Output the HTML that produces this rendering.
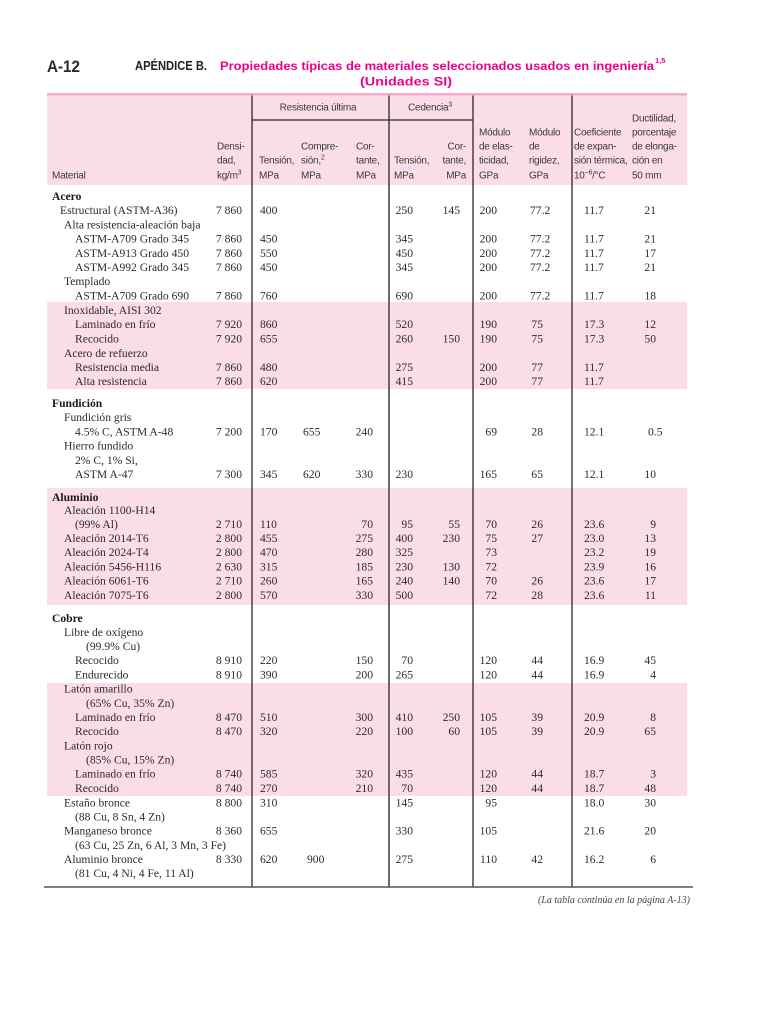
<!DOCTYPE html>
<html><head><meta charset="utf-8"><style>
html,body{margin:0;padding:0;background:#fff;}
svg{display:block;}
.s{font-family:"Liberation Sans",sans-serif;font-size:10px;fill:#3a3a3a;letter-spacing:-0.25px;}
.b{font-family:"Liberation Serif",serif;font-size:11.6px;fill:#2b2b2b;}
.bb{font-family:"Liberation Serif",serif;font-size:11.6px;font-weight:bold;fill:#1a1a1a;}
.e{text-anchor:end;}
.m{text-anchor:middle;}
</style></head><body>
<svg width="768" height="1024" viewBox="0 0 768 1024" xmlns="http://www.w3.org/2000/svg">
<rect width="768" height="1024" fill="#fff"/>
<!-- title -->
<text x="47" y="72" font-family="Liberation Sans, sans-serif" font-size="17" font-weight="bold" fill="#2a2a2a" textLength="33" lengthAdjust="spacingAndGlyphs">A-12</text>
<text x="135" y="70" font-family="Liberation Sans, sans-serif" font-size="12.5" font-weight="bold" fill="#222" textLength="72" lengthAdjust="spacingAndGlyphs">APÉNDICE B.</text>
<text x="220" y="70" font-family="Liberation Sans, sans-serif" font-size="12.2" font-weight="bold" fill="#ec008c" textLength="434" lengthAdjust="spacingAndGlyphs">Propiedades típicas de materiales seleccionados usados en ingeniería</text>
<text x="655" y="63" font-family="Liberation Sans, sans-serif" font-size="7.5" font-weight="bold" fill="#ec008c">1,5</text>
<text x="360" y="85.5" font-family="Liberation Sans, sans-serif" font-size="12.2" font-weight="bold" fill="#ec008c" textLength="92" lengthAdjust="spacingAndGlyphs">(Unidades SI)</text>

<!-- bands -->
<rect x="47" y="93" width="640" height="92" fill="#fbdde9"/>
<rect x="47" y="93" width="640" height="2.5" fill="#f4adcc"/>
<rect x="47" y="302" width="640" height="87" fill="#fbdde9"/>
<rect x="47" y="488" width="640" height="117" fill="#fbdde9"/>
<rect x="47" y="683" width="640" height="113" fill="#fbdde9"/>

<!-- lines -->
<line x1="252" y1="95.5" x2="252" y2="887" stroke="#2a2a2a" stroke-width="1.3"/>
<line x1="389" y1="95.5" x2="389" y2="887" stroke="#6a6a6a" stroke-width="2"/>
<line x1="473" y1="95.5" x2="473" y2="887" stroke="#2a2a2a" stroke-width="1.3"/>
<line x1="572" y1="95.5" x2="572" y2="887" stroke="#2a2a2a" stroke-width="1.3"/>
<line x1="252" y1="120" x2="473" y2="120" stroke="#2a2a2a" stroke-width="1.2"/>
<line x1="44" y1="887" x2="693" y2="887" stroke="#555" stroke-width="1.6"/>

<!-- header text -->
<g class="s">
<text x="52" y="178.5">Material</text>
<text x="217" y="149.5">Densi-</text>
<text x="217" y="163.5">dad,</text>
<text x="217" y="178.5">kg/m<tspan font-size="7" dy="-4">3</tspan></text>
<text x="318" y="110.5" class="m">Resistencia última</text>
<text x="430" y="110.5" class="m">Cedencia<tspan font-size="7" dy="-4">3</tspan></text>
<text x="259" y="163.5">Tensión,</text>
<text x="259" y="178.5">MPa</text>
<text x="301" y="149.5">Compre-</text>
<text x="301" y="163.5">sión,<tspan font-size="7" dy="-4">2</tspan></text>
<text x="301" y="178.5">MPa</text>
<text x="356" y="149.5">Cor-</text>
<text x="356" y="163.5">tante,</text>
<text x="356" y="178.5">MPa</text>
<text x="394" y="163.5">Tensión,</text>
<text x="394" y="178.5">MPa</text>
<text x="466" y="149.5" class="e">Cor-</text>
<text x="466" y="163.5" class="e">tante,</text>
<text x="466" y="178.5" class="e">MPa</text>
<text x="479" y="135.5">Módulo</text>
<text x="479" y="149.5">de elas-</text>
<text x="479" y="163.5">ticidad,</text>
<text x="479" y="178.5">GPa</text>
<text x="529" y="135.5">Módulo</text>
<text x="529" y="149.5">de</text>
<text x="529" y="163.5">rigidez,</text>
<text x="529" y="178.5">GPa</text>
<text x="574" y="135.5">Coeficiente</text>
<text x="574" y="149.5">de expan-</text>
<text x="574" y="163.5">sión térmica,</text>
<text x="574" y="178.5">10<tspan font-size="7" dy="-4">−6</tspan><tspan dy="4">/°C</tspan></text>
<text x="632" y="121.5">Ductilidad,</text>
<text x="632" y="135.5">porcentaje</text>
<text x="632" y="149.5">de elonga-</text>
<text x="632" y="163.5">ción en</text>
<text x="632" y="178.5">50 mm</text>
</g>

<!-- body labels -->
<g class="b">
<text class="bb" x="52" y="200">Acero</text>
<text x="60" y="214">Estructural (ASTM-A36)</text>
<text x="64" y="228.5">Alta resistencia-aleación baja</text>
<text x="75" y="242.5">ASTM-A709 Grado 345</text>
<text x="75" y="257">ASTM-A913 Grado 450</text>
<text x="75" y="271">ASTM-A992 Grado 345</text>
<text x="64" y="285">Templado</text>
<text x="75" y="299.5">ASTM-A709 Grado 690</text>
<text x="64" y="314">Inoxidable, AISI 302</text>
<text x="75" y="328">Laminado en frío</text>
<text x="75" y="342.5">Recocido</text>
<text x="64" y="357">Acero de refuerzo</text>
<text x="75" y="371">Resistencia media</text>
<text x="75" y="385">Alta resistencia</text>
<text class="bb" x="52" y="407">Fundición</text>
<text x="64" y="421">Fundición gris</text>
<text x="75" y="435.5">4.5% C, ASTM A-48</text>
<text x="64" y="449.5">Hierro fundido</text>
<text x="75" y="464">2% C, 1% Si,</text>
<text x="75" y="478">ASTM A-47</text>
<text class="bb" x="52" y="501">Aluminio</text>
<text x="64" y="514">Aleación 1100-H14</text>
<text x="75" y="528">(99% Al)</text>
<text x="64" y="542">Aleación 2014-T6</text>
<text x="64" y="556">Aleación 2024-T4</text>
<text x="64" y="570.5">Aleación 5456-H116</text>
<text x="64" y="584.5">Aleación 6061-T6</text>
<text x="64" y="599">Aleación 7075-T6</text>
<text class="bb" x="52" y="622">Cobre</text>
<text x="64" y="636">Libre de oxígeno</text>
<text x="86" y="650">(99.9% Cu)</text>
<text x="75" y="664">Recocido</text>
<text x="75" y="678.5">Endurecido</text>
<text x="64" y="692.5">Latón amarillo</text>
<text x="86" y="707">(65% Cu, 35% Zn)</text>
<text x="75" y="721">Laminado en frío</text>
<text x="75" y="735">Recocido</text>
<text x="64" y="749.5">Latón rojo</text>
<text x="86" y="763.5">(85% Cu, 15% Zn)</text>
<text x="75" y="777.5">Laminado en frío</text>
<text x="75" y="792">Recocido</text>
<text x="64" y="806.5">Estaño bronce</text>
<text x="75" y="820.5">(88 Cu, 8 Sn, 4 Zn)</text>
<text x="64" y="834.5">Manganeso bronce</text>
<text x="75" y="849">(63 Cu, 25 Zn, 6 Al, 3 Mn, 3 Fe)</text>
<text x="64" y="863">Aluminio bronce</text>
<text x="75" y="877">(81 Cu, 4 Ni, 4 Fe, 11 Al)</text>
</g>

<!-- body numbers -->
<g class="b">
<g transform="translate(0,214)"><text class="e" x="242">7 860</text><text x="260">400</text><text class="e" x="413">250</text><text class="e" x="460">145</text><text class="e" x="497">200</text><text x="530">77.2</text><text x="584">11.7</text><text class="e" x="656">21</text></g>
<g transform="translate(0,242.5)"><text class="e" x="242">7 860</text><text x="260">450</text><text class="e" x="413">345</text><text class="e" x="497">200</text><text x="530">77.2</text><text x="584">11.7</text><text class="e" x="656">21</text></g>
<g transform="translate(0,257)"><text class="e" x="242">7 860</text><text x="260">550</text><text class="e" x="413">450</text><text class="e" x="497">200</text><text x="530">77.2</text><text x="584">11.7</text><text class="e" x="656">17</text></g>
<g transform="translate(0,271)"><text class="e" x="242">7 860</text><text x="260">450</text><text class="e" x="413">345</text><text class="e" x="497">200</text><text x="530">77.2</text><text x="584">11.7</text><text class="e" x="656">21</text></g>
<g transform="translate(0,299.5)"><text class="e" x="242">7 860</text><text x="260">760</text><text class="e" x="413">690</text><text class="e" x="497">200</text><text x="530">77.2</text><text x="584">11.7</text><text class="e" x="656">18</text></g>
<g transform="translate(0,328)"><text class="e" x="242">7 920</text><text x="260">860</text><text class="e" x="413">520</text><text class="e" x="497">190</text><text class="e" x="543">75</text><text x="584">17.3</text><text class="e" x="656">12</text></g>
<g transform="translate(0,342.5)"><text class="e" x="242">7 920</text><text x="260">655</text><text class="e" x="413">260</text><text class="e" x="460">150</text><text class="e" x="497">190</text><text class="e" x="543">75</text><text x="584">17.3</text><text class="e" x="656">50</text></g>
<g transform="translate(0,371)"><text class="e" x="242">7 860</text><text x="260">480</text><text class="e" x="413">275</text><text class="e" x="497">200</text><text class="e" x="543">77</text><text x="584">11.7</text></g>
<g transform="translate(0,385)"><text class="e" x="242">7 860</text><text x="260">620</text><text class="e" x="413">415</text><text class="e" x="497">200</text><text class="e" x="543">77</text><text x="584">11.7</text></g>
<g transform="translate(0,435.5)"><text class="e" x="242">7 200</text><text x="260">170</text><text x="303">655</text><text class="e" x="373">240</text><text class="e" x="497">69</text><text class="e" x="543">28</text><text x="584">12.1</text><text x="648">0.5</text></g>
<g transform="translate(0,478)"><text class="e" x="242">7 300</text><text x="260">345</text><text x="303">620</text><text class="e" x="373">330</text><text class="e" x="413">230</text><text class="e" x="497">165</text><text class="e" x="543">65</text><text x="584">12.1</text><text class="e" x="656">10</text></g>
<g transform="translate(0,528)"><text class="e" x="242">2 710</text><text x="260">110</text><text class="e" x="373">70</text><text class="e" x="413">95</text><text class="e" x="460">55</text><text class="e" x="497">70</text><text class="e" x="543">26</text><text x="584">23.6</text><text class="e" x="656">9</text></g>
<g transform="translate(0,542)"><text class="e" x="242">2 800</text><text x="260">455</text><text class="e" x="373">275</text><text class="e" x="413">400</text><text class="e" x="460">230</text><text class="e" x="497">75</text><text class="e" x="543">27</text><text x="584">23.0</text><text class="e" x="656">13</text></g>
<g transform="translate(0,556)"><text class="e" x="242">2 800</text><text x="260">470</text><text class="e" x="373">280</text><text class="e" x="413">325</text><text class="e" x="497">73</text><text x="584">23.2</text><text class="e" x="656">19</text></g>
<g transform="translate(0,570.5)"><text class="e" x="242">2 630</text><text x="260">315</text><text class="e" x="373">185</text><text class="e" x="413">230</text><text class="e" x="460">130</text><text class="e" x="497">72</text><text x="584">23.9</text><text class="e" x="656">16</text></g>
<g transform="translate(0,584.5)"><text class="e" x="242">2 710</text><text x="260">260</text><text class="e" x="373">165</text><text class="e" x="413">240</text><text class="e" x="460">140</text><text class="e" x="497">70</text><text class="e" x="543">26</text><text x="584">23.6</text><text class="e" x="656">17</text></g>
<g transform="translate(0,599)"><text class="e" x="242">2 800</text><text x="260">570</text><text class="e" x="373">330</text><text class="e" x="413">500</text><text class="e" x="497">72</text><text class="e" x="543">28</text><text x="584">23.6</text><text class="e" x="656">11</text></g>
<g transform="translate(0,664)"><text class="e" x="242">8 910</text><text x="260">220</text><text class="e" x="373">150</text><text class="e" x="413">70</text><text class="e" x="497">120</text><text class="e" x="543">44</text><text x="584">16.9</text><text class="e" x="656">45</text></g>
<g transform="translate(0,678.5)"><text class="e" x="242">8 910</text><text x="260">390</text><text class="e" x="373">200</text><text class="e" x="413">265</text><text class="e" x="497">120</text><text class="e" x="543">44</text><text x="584">16.9</text><text class="e" x="656">4</text></g>
<g transform="translate(0,721)"><text class="e" x="242">8 470</text><text x="260">510</text><text class="e" x="373">300</text><text class="e" x="413">410</text><text class="e" x="460">250</text><text class="e" x="497">105</text><text class="e" x="543">39</text><text x="584">20.9</text><text class="e" x="656">8</text></g>
<g transform="translate(0,735)"><text class="e" x="242">8 470</text><text x="260">320</text><text class="e" x="373">220</text><text class="e" x="413">100</text><text class="e" x="460">60</text><text class="e" x="497">105</text><text class="e" x="543">39</text><text x="584">20.9</text><text class="e" x="656">65</text></g>
<g transform="translate(0,777.5)"><text class="e" x="242">8 740</text><text x="260">585</text><text class="e" x="373">320</text><text class="e" x="413">435</text><text class="e" x="497">120</text><text class="e" x="543">44</text><text x="584">18.7</text><text class="e" x="656">3</text></g>
<g transform="translate(0,792)"><text class="e" x="242">8 740</text><text x="260">270</text><text class="e" x="373">210</text><text class="e" x="413">70</text><text class="e" x="497">120</text><text class="e" x="543">44</text><text x="584">18.7</text><text class="e" x="656">48</text></g>
<g transform="translate(0,806.5)"><text class="e" x="242">8 800</text><text x="260">310</text><text class="e" x="413">145</text><text class="e" x="497">95</text><text x="584">18.0</text><text class="e" x="656">30</text></g>
<g transform="translate(0,834.5)"><text class="e" x="242">8 360</text><text x="260">655</text><text class="e" x="413">330</text><text class="e" x="497">105</text><text x="584">21.6</text><text class="e" x="656">20</text></g>
<g transform="translate(0,863)"><text class="e" x="242">8 330</text><text x="260">620</text><text x="307">900</text><text class="e" x="413">275</text><text class="e" x="497">110</text><text class="e" x="543">42</text><text x="584">16.2</text><text class="e" x="656">6</text></g>
</g>

<text x="690" y="903" text-anchor="end" font-family="Liberation Serif, serif" font-style="italic" font-size="10" fill="#444">(La tabla continúa en la página A-13)</text>
</svg>
</body></html>
